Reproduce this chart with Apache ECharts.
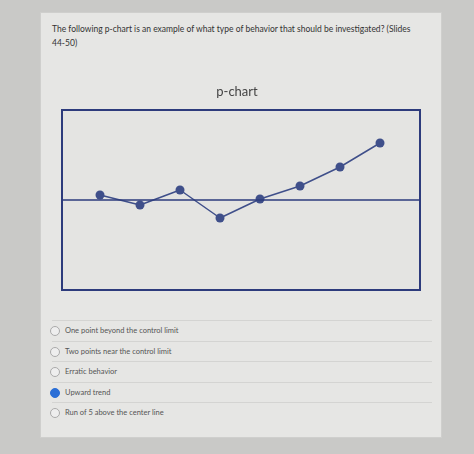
<!DOCTYPE html>
<html><head><meta charset="utf-8">
<script src="https://cdn.jsdelivr.net/npm/echarts@6/dist/echarts.min.js"></script>
<style>
body{margin:0;width:474px;height:454px;background:#c9c9c7;font-family:Lato,"Open Sans",sans-serif;overflow:hidden;position:relative}
#card{position:absolute;left:40px;top:12px;width:400px;height:424px;background:#e6e6e4;border:1px solid #cfcfcd}
#q{position:absolute;left:52px;top:22px;width:372px;font-size:8.5px;line-height:14px;color:#333}
#chart{position:absolute;left:0;top:70px;width:474px;height:240px}
.opt{position:absolute;left:52px;width:380px;height:20px;font-size:7.5px;color:#555;border-top:1px solid #d4d4d2;line-height:20px}
.opt span{display:inline-block;width:8px;height:8px;border-radius:50%;border:1px solid #aaa;background:#eee;vertical-align:middle;margin-right:5px;margin-left:-2px}
.opt span.sel{background:#2b6fd6;border-color:#2b6fd6;box-shadow:inset 0 0 0 2px #2b6fd6}
</style></head><body>
<div id="card"></div>
<div id="q">The following p-chart is an example of what type of behavior that should be investigated? (Slides<br>44-50)</div>
<div id="chart"></div>
<div id="opts"></div>
<script>
var xs = [1, 2, 3, 4, 5, 6, 7, 8];
var ps = [95, 85, 100, 72, 91, 104, 123, 147];
var centerLine = 90;
var options = ['One point beyond the control limit','Two points near the control limit','Erratic behavior','Upward trend','Run of 5 above the center line'];
var selected = 3;

var html = '';
options.forEach(function(o, i){
  html += '<div class="opt" style="top:' + (320 + i * 20.5) + 'px"><span' + (i === selected ? ' class="sel"' : '') + '></span>' + o + '</div>';
});
document.getElementById('opts').innerHTML = html;

var chart = echarts.init(document.getElementById('chart'));
chart.setOption({
  animation: false,
  title: {text: 'p-chart', left: 'center', top: 10, textStyle: {fontSize: 13, fontWeight: 'normal', color: '#444', fontFamily: 'Lato'}},
  grid: {left: 62, right: 54, top: 40, bottom: 20, show: true, borderColor: '#2d3b7c', borderWidth: 2, backgroundColor: '#e4e4e2'},
  xAxis: {type: 'value', min: 0.05, max: 9, show: false},
  yAxis: {type: 'value', min: 0, max: 180, show: false},
  series: [{
    type: 'line', data: xs.map(function(x, i){ return [x, ps[i]]; }),
    symbol: 'circle', symbolSize: 9,
    lineStyle: {color: '#3f4f8a', width: 1.5},
    itemStyle: {color: '#3f4f8a'},
    markLine: {symbol: 'none', silent: true, label: {show: false},
      lineStyle: {color: '#2d3b7c', width: 1.5, type: 'solid'},
      data: [{yAxis: centerLine}]}
  }]
});
</script>
</body></html>
